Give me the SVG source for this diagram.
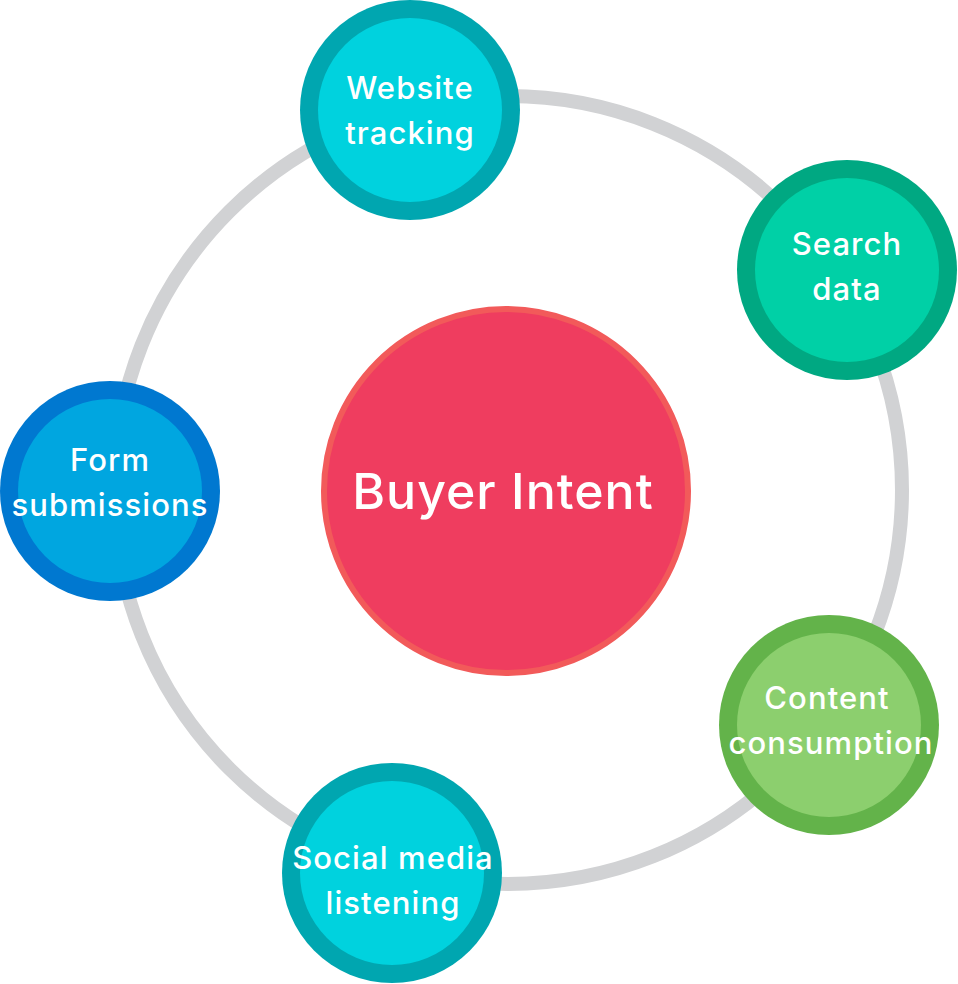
<svg xmlns="http://www.w3.org/2000/svg" width="958" height="984" viewBox="0 0 958 984">
<style>
.t{font-family:Inter,"Open Sans",sans-serif;fill:#fff;text-anchor:middle;font-weight:500}
.s{font-size:31px;letter-spacing:1.1px}
</style>
<rect width="958" height="984" fill="#fff"/>
<g id="connectors"><circle cx="508" cy="490" r="394" fill="none" stroke="#d1d2d4" stroke-width="14"/></g>
<g id="center"><circle cx="506" cy="491" r="182" fill="#ef3d5f" stroke="#f25a5a" stroke-width="6"/><text class="t" x="503" y="509" font-size="50" letter-spacing="1">Buyer Intent</text></g>
<g id="website"><circle cx="410" cy="110" r="110" fill="#00a6b0"/><circle cx="410" cy="110" r="92" fill="#00d2de"/><text class="t s" x="410" y="99">Website</text><text class="t s" x="410" y="144">tracking</text></g>
<g id="search"><circle cx="847" cy="270" r="110" fill="#00a882"/><circle cx="847" cy="270" r="92" fill="#00d0a6"/><text class="t s" x="847" y="255">Search</text><text class="t s" x="847" y="300">data</text></g>
<g id="content"><circle cx="829" cy="725" r="110" fill="#63b34a"/><circle cx="829" cy="725" r="92" fill="#8ccf6e"/><text class="t s" x="827" y="709">Content</text><text class="t s" x="831" y="754">consumption</text></g>
<g id="social"><circle cx="392" cy="873" r="110" fill="#00a6b0"/><circle cx="392" cy="873" r="92" fill="#00d2de"/><text class="t s" x="393" y="869">Social media</text><text class="t s" x="393" y="914">listening</text></g>
<g id="form"><circle cx="110" cy="491" r="110" fill="#0078d0"/><circle cx="110" cy="491" r="92" fill="#00a6e0"/><text class="t s" x="110" y="471">Form</text><text class="t s" x="110" y="516">submissions</text></g>
</svg>
